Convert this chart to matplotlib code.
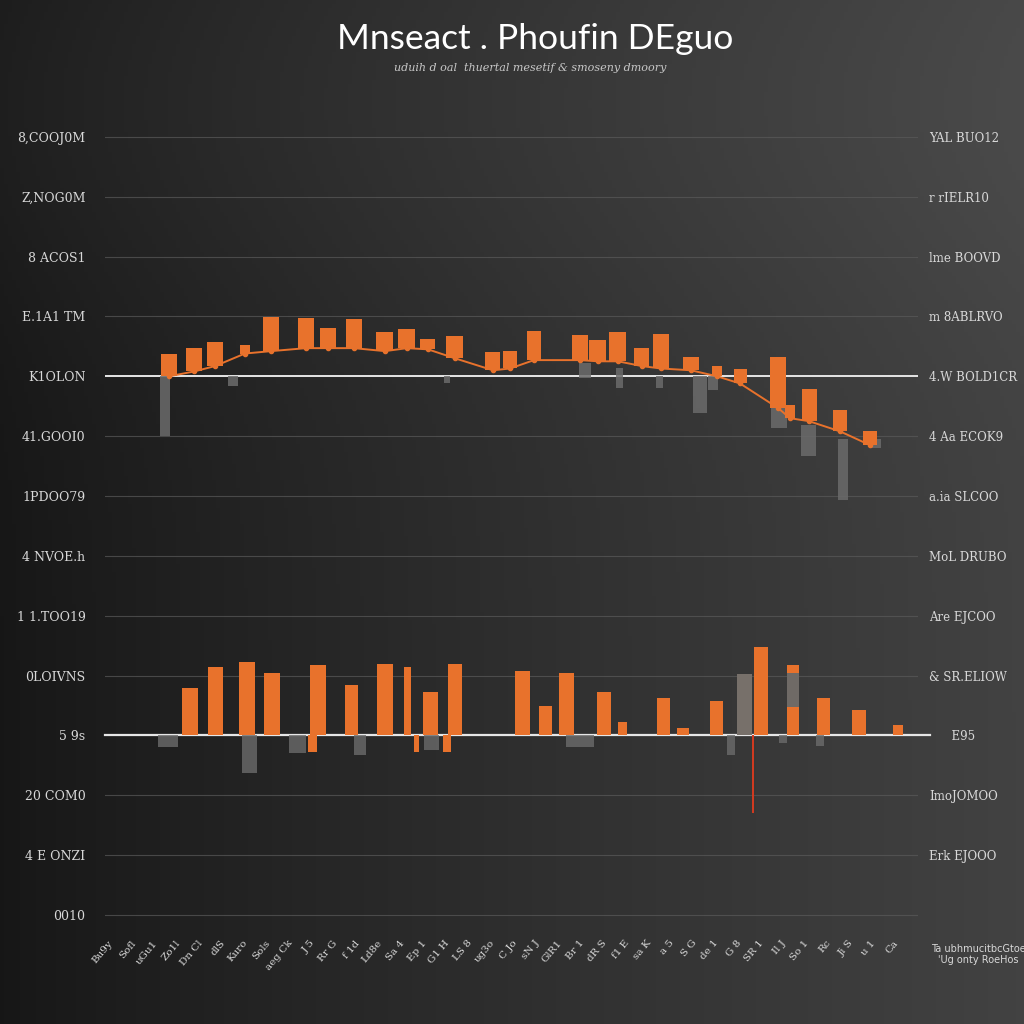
import numpy as np
import matplotlib
matplotlib.use("Agg")
import matplotlib.pyplot as plt

# ---- data (y in grid units, relative to each panel's baseline) ----
top_x = [6.4, 8.9, 11.0, 14.0, 16.6, 20.1, 22.3, 24.9, 28.0, 30.2, 32.3, 35.0, 38.8, 40.5,
         42.9, 47.5, 49.3, 51.3, 53.7, 55.6, 58.6, 61.2, 63.5, 67.3, 68.5, 70.4, 73.5, 76.5]
top_bottom = [0.0, 0.08, 0.17, 0.38, 0.42, 0.47, 0.47, 0.47, 0.42, 0.47, 0.45, 0.30, 0.10, 0.13,
              0.27, 0.27, 0.25, 0.25, 0.17, 0.13, 0.10, 0.0, -0.12, -0.53, -0.70, -0.75, -0.92, -1.15]
top_top = [0.38, 0.48, 0.57, 0.52, 0.99, 0.97, 0.80, 0.95, 0.74, 0.79, 0.62, 0.67, 0.40, 0.43,
           0.75, 0.69, 0.60, 0.74, 0.48, 0.70, 0.32, 0.17, 0.12, 0.32, -0.48, -0.22, -0.57, -0.92]
top_w = [1.6, 1.6, 1.6, 1.0, 1.6, 1.6, 1.6, 1.6, 1.7, 1.7, 1.5, 1.7, 1.5, 1.4,
         1.4, 1.6, 1.7, 1.7, 1.5, 1.6, 1.5, 1.0, 1.3, 1.6, 1.0, 1.5, 1.4, 1.4]

top_gray_x = [6.0, 12.8, 34.2, 48.0, 51.5, 55.5, 59.5, 60.8, 67.4, 70.3, 73.8, 77.0]
top_gray_top = [0.0, 0.0, 0.0, 0.22, 0.13, 0.0, 0.0, 0.0, -0.53, -0.82, -1.04, -1.04]
top_gray_bot = [-1.0, -0.17, -0.12, -0.03, -0.20, -0.20, -0.62, -0.23, -0.87, -1.34, -2.07, -1.20]
top_gray_w = [1.0, 1.0, 0.6, 1.2, 0.7, 0.7, 1.4, 1.0, 1.6, 1.5, 1.0, 1.2]

bot_x = [8.5, 11.1, 14.2, 16.7, 21.3, 24.7, 28.0, 30.3, 32.6, 35.0, 41.8, 44.1,
         46.2, 49.9, 51.8, 55.9, 57.8, 61.1, 65.6, 68.8, 71.8, 75.4, 79.3]
bot_h = [0.79, 1.14, 1.22, 1.04, 1.17, 0.85, 1.19, 1.15, 0.72, 1.20, 1.07, 0.50,
         1.05, 0.72, 0.22, 0.63, 0.13, 0.57, 1.47, 1.17, 0.63, 0.42, 0.18]
bot_w = [1.6, 1.5, 1.6, 1.6, 1.6, 1.3, 1.6, 0.7, 1.5, 1.4, 1.5, 1.3,
         1.5, 1.4, 0.9, 1.3, 1.2, 1.3, 1.4, 1.2, 1.3, 1.4, 1.0]

bot_neg_or_x = [20.8, 31.2, 34.2]
bot_neg_or_h = [-0.28, -0.28, -0.28]
bot_neg_or_w = [0.9, 0.5, 0.8]

bot_neg_gr_x = [6.3, 14.5, 19.3, 25.5, 32.7, 47.5, 62.6, 67.8, 71.5]
bot_neg_gr_h = [-0.2, -0.62, -0.3, -0.33, -0.25, -0.2, -0.33, -0.12, -0.17]
bot_neg_gr_w = [2.0, 1.5, 1.7, 1.2, 1.5, 2.8, 0.8, 0.8, 0.8]

bot_gray_x = [63.9]
bot_gray_h = [1.02]
overlay_x, overlay_bot, overlay_h = 68.8, 0.47, 0.58
spike_x, spike_h = 64.8, -1.3

left_labels = ["8,COOJ0M", "Z,NOG0M", "8 ACOS1", "E.1A1 TM", "K1OLON", "41.GOOI0", "1PDOO79",
               "4 NVOE.h", "1 1.TOO19", "0LOIVNS", "5 9s", "20 COM0", "4 E ONZI", "0010"]
right_labels = ["YAL BUO12", "r rIELR10", "lme BOOVD", "m 8ABLRVO", "4.W BOLD1CR", "4 Aa ECOK9",
                "a.ia SLCOO", "MoL DRUBO", "Are EJCOO", "& SR.ELIOW", "      E95",
                "ImoJOMOO", "Erk EJOOO", ""]
x_labels = ["Bu9y", "Sofl", "uGu1", "Zo1l", "Dn Cl", "dlS", "Kuro", "Sols", "aeg Ck", "J 5",
            "Rr G", "f 1d", "Ld8e", "Sa 4", "Ep 1", "G1 H", "LS 8", "ug3o", "C Jo", "sN J",
            "GlR1", "Br 1", "dR S", "f1 E", "sa K", "a 5", "S G", "de 1", "G 8", "SR 1",
            "Il J", "So 1", "Rc", "Ji S", "u 1", "Ca"]

orange = "#e8722c"
gray = "#6b6b6b"
txt = "#d8d8d8"

fig = plt.figure(figsize=(10.24, 10.24), dpi=100)

# dark background, lighter to the right
bg = fig.add_axes([0, 0, 1, 1], zorder=-10)
gx = np.linspace(0, 1, 256)
gy = np.linspace(0, 1, 256)
X, Y = np.meshgrid(gx, gy)
shade = 0.09 + 0.17 * X ** 0.9 + 0.03 * np.exp(-((Y - 0.1) ** 2) / 0.05)
bg.imshow(np.dstack([shade] * 3), extent=[0, 1, 0, 1], aspect="auto", origin="upper")
bg.axis("off")

ax = fig.add_axes([0.1025, 0.0889, 0.794, 0.795])
ax.set_facecolor("none")
ax.set_xlim(0, 81.3)
ax.set_ylim(-0.3, 13.3)

base_top, base_bot = 9, 3

for g in range(14):
    ax.axhline(g, color="#5a5a5a", lw=0.8, alpha=0.7, zorder=0)
ax.axhline(base_top, color="#e6e6e6", lw=1.4, zorder=1)
ax.plot([0, 82.5], [base_bot, base_bot], color="#e6e6e6", lw=1.6, zorder=1, clip_on=False)

# top panel
tb = np.array(top_bottom) + base_top
tt = np.array(top_top) + base_top
ax.bar(top_gray_x, np.array(top_gray_bot) - np.array(top_gray_top), width=top_gray_w,
       bottom=np.array(top_gray_top) + base_top, color=gray, alpha=0.85, zorder=2)
ax.bar(top_x, tt - tb, width=top_w, bottom=tb, color=orange, zorder=3)
ax.plot(top_x, tb, color=orange, lw=1.4, marker="o", ms=3, zorder=4)

# bottom panel
ax.bar(bot_neg_gr_x, bot_neg_gr_h, width=bot_neg_gr_w, bottom=base_bot, color=gray, alpha=0.8, zorder=2)
ax.bar(bot_neg_or_x, bot_neg_or_h, width=bot_neg_or_w, bottom=base_bot, color=orange, zorder=2)
ax.bar(bot_gray_x, bot_gray_h, width=1.5, bottom=base_bot, color="#77706a", zorder=2)
ax.bar(bot_x, bot_h, width=bot_w, bottom=base_bot, color=orange, zorder=3)
ax.bar([overlay_x], [overlay_h], width=1.2, bottom=base_bot + overlay_bot, color="#6f6a66", zorder=4)
ax.bar([spike_x], [spike_h], width=0.2, bottom=base_bot, color="#d03a20", zorder=4)

# axes text
ax.set_yticks(range(14))
ax.set_yticklabels(left_labels[::-1], color=txt, fontsize=9, family="DejaVu Serif")
ax.tick_params(axis="y", length=0, pad=14)
ax2 = ax.twinx()
ax2.set_ylim(ax.get_ylim())
ax2.set_yticks(range(13, -1, -1))
ax2.set_yticklabels(right_labels, color=txt, fontsize=8.5, family="DejaVu Serif")
ax2.tick_params(axis="y", length=0, pad=8)

ax.set_xticks(np.linspace(1.0, 79.5, len(x_labels)))
ax.set_xticklabels(x_labels, rotation=50, ha="right", fontsize=7.5, color=txt, family="DejaVu Serif")
ax.tick_params(axis="x", length=0, pad=4)

for a in (ax, ax2):
    for s in a.spines.values():
        s.set_visible(False)

fig.text(0.955, 0.068, "Ta ubhmucitbcGtoe\n'Ug onty RoeHos", color=txt, fontsize=7,
         ha="center", va="center", family="DejaVu Sans")

fig.text(0.523, 0.962, "Mnseact . Phoufin DEguo", color="white", fontsize=25.5,
         ha="center", va="center", family="Lato", fontweight="normal")
fig.text(0.518, 0.934, "uduih d oal  thuertal mesetif & smoseny dmoory", color="#c8c8c8",
         fontsize=8, ha="center", va="center", family="DejaVu Serif", style="italic")

fig.savefig("out.png", dpi=100)
